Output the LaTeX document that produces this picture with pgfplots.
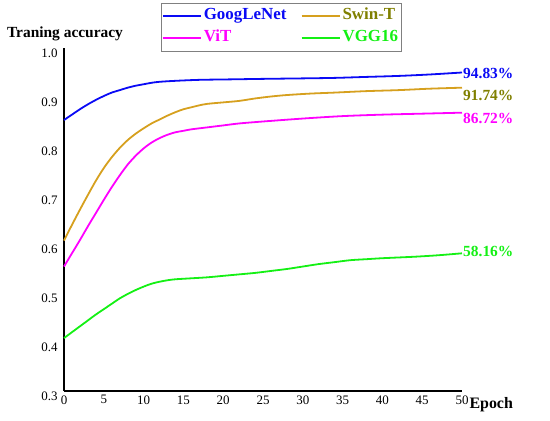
\documentclass[border=0pt]{standalone}
\usepackage{pgfplots}
\pgfplotsset{compat=1.18}
\usepackage{fontspec}
\setmainfont{Liberation Serif}
\definecolor{gnet}{RGB}{10,10,245}
\definecolor{swin}{RGB}{214,160,30}
\definecolor{swintxt}{RGB}{128,128,0}
\definecolor{vit}{RGB}{255,0,255}
\definecolor{vgg}{RGB}{20,240,20}
\begin{document}
\begin{tikzpicture}
\useasboundingbox (-64bp,-30bp) rectangle (486bp,391bp);
\begin{axis}[
scale only axis,width=398bp,height=343bp,
xmin=0,xmax=50,ymin=0.3,ymax=1.0,
axis x line=bottom,axis y line=left,
axis line style={-,line width=1.2bp,black},
xtick={0,5,...,50},ytick={0.3,0.4,...,1.0},
major tick length=0pt,
tick label style={font=\fontsize{13}{15}\selectfont},
/pgf/number format/assume math mode=true,
yticklabel style={/pgf/number format/.cd,fixed,fixed zerofill,precision=1,/tikz/.cd,xshift=-3bp,yshift=-5bp},
xticklabel style={yshift=-1bp},
xlabel={\textbf{Epoch}},
xlabel style={at={(axis description cs:1,0)},anchor=base west,xshift=4bp,yshift=-18bp,font=\fontsize{16}{18}\selectfont},
ylabel={\textbf{Traning accuracy}},
ylabel style={at={(axis description cs:0,1)},rotate=-90,anchor=base,xshift=1bp,yshift=10bp,font=\fontsize{15.5}{18}\selectfont},
legend columns=2,
legend cell align=left,
legend style={at={(rel axis cs:0.545,1)},anchor=north,yshift=45bp,draw=gray,
  inner xsep=1bp,inner ysep=2bp,font=\fontsize{17}{19}\selectfont\bfseries,
  nodes={text height=12bp,text depth=6bp},
  /tikz/every even column/.append style={column sep=12bp}},
legend image code/.code={\draw[#1,line width=2bp,sharp plot] (0bp,0bp) -- (38bp,0bp);},
every axis plot/.append style={line width=1.8bp,no marks,smooth},
clip=false,
]
\addplot[gnet] coordinates {(0,0.853) (1,0.864) (2,0.875) (3,0.885) (4,0.894) (5,0.902) (6,0.909) (7,0.914) (8,0.919) (9,0.923) (10,0.926) (11,0.929) (12,0.931) (14,0.933) (17,0.935) (21,0.936) (25,0.937) (30,0.938) (34,0.939) (38,0.941) (42,0.943) (46,0.946) (50,0.950)};
\addlegendentry{\textcolor{gnet}{GoogLeNet}}
\addplot[swin] coordinates {(0,0.607) (1,0.639) (2,0.670) (3,0.700) (4,0.729) (5,0.755) (6,0.777) (7,0.796) (8,0.812) (9,0.825) (10,0.836) (11,0.846) (12,0.854) (13,0.862) (14,0.869) (15,0.875) (16,0.879) (17,0.883) (18,0.886) (20,0.889) (22,0.892) (24,0.897) (26,0.901) (28,0.904) (31,0.907) (34,0.909) (38,0.912) (42,0.914) (46,0.917) (50,0.919)};
\addlegendentry{\textcolor{swintxt}{Swin-T}}
\addplot[vit] coordinates {(0,0.554) (1,0.581) (2,0.608) (3,0.636) (4,0.663) (5,0.690) (6,0.716) (7,0.740) (8,0.762) (9,0.780) (10,0.795) (11,0.807) (12,0.816) (13,0.823) (14,0.828) (15,0.831) (16,0.834) (18,0.838) (20,0.842) (22,0.846) (25,0.850) (30,0.856) (35,0.861) (40,0.864) (45,0.866) (50,0.868)};
\addlegendentry{\textcolor{vit}{ViT}}
\addplot[vgg] coordinates {(0,0.408) (1,0.420) (2,0.432) (3,0.444) (4,0.456) (5,0.467) (6,0.478) (7,0.489) (8,0.498) (9,0.506) (10,0.513) (11,0.519) (12,0.523) (13,0.526) (14,0.528) (16,0.530) (18,0.532) (20,0.535) (22,0.538) (24,0.541) (26,0.545) (28,0.549) (30,0.554) (32,0.559) (34,0.563) (36,0.567) (38,0.569) (40,0.571) (44,0.574) (47,0.577) (50,0.581)};
\addlegendentry{\textcolor{vgg}{VGG16}}
\begin{scope}[font=\fontsize{15.5}{18}\selectfont\bfseries]
\node[anchor=west,inner sep=1bp,text=gnet] at (axis cs:50,0.949) {94.83\%};
\node[anchor=west,inner sep=1bp,text=swintxt] at (axis cs:50,0.904) {91.74\%};
\node[anchor=west,inner sep=1bp,text=vit] at (axis cs:50,0.857) {86.72\%};
\node[anchor=west,inner sep=1bp,text=vgg] at (axis cs:50,0.584) {58.16\%};
\end{scope}
\end{axis}
\end{tikzpicture}
\end{document}
